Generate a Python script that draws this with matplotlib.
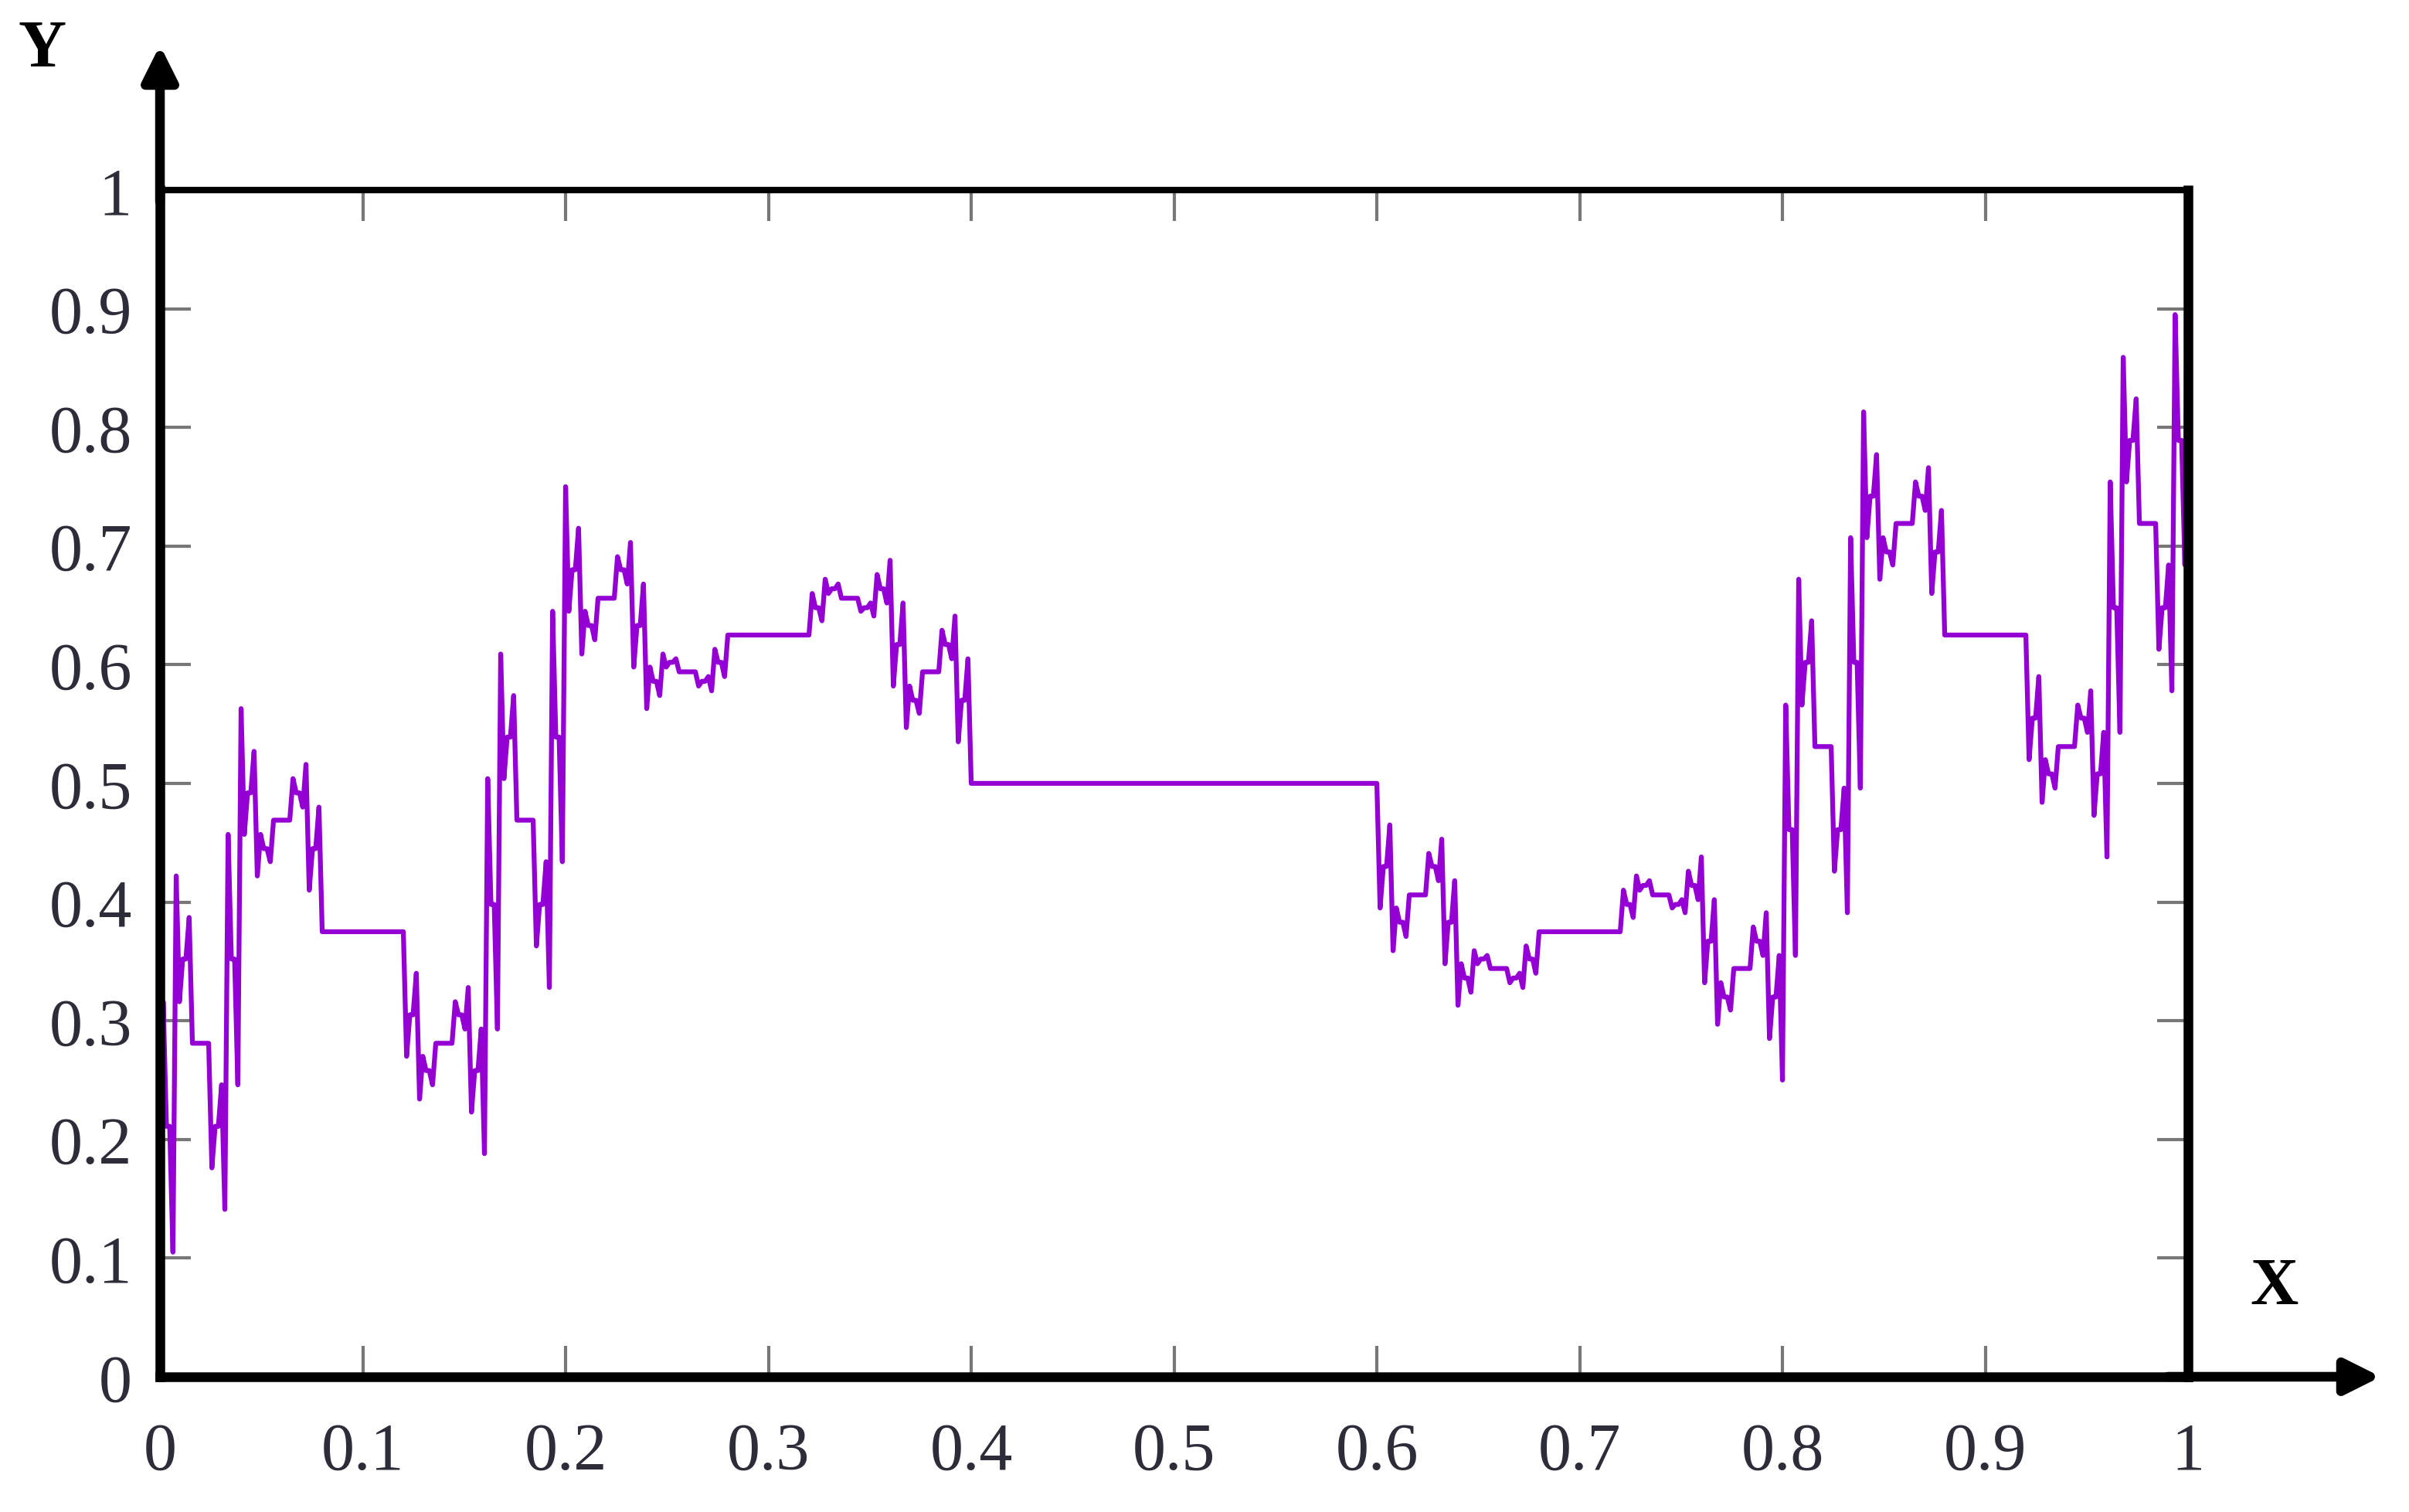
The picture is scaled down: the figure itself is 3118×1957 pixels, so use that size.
import numpy as np
import matplotlib
matplotlib.use("Agg")
import matplotlib.pyplot as plt

# Curve, piece by piece.
# x positions are given in steps of 1/625, y values as read.
part1_pos = [0, 1, 2, 3, 4, 5, 6, 7, 8, 9, 10,
             15, 16, 17, 18, 19, 20, 21, 22, 23, 24, 25, 26, 27, 28, 29, 30, 31, 32, 33, 34, 35,
             40, 41, 42, 43, 44, 45, 46, 47, 48, 49, 50,
             75, 76, 77, 78, 79, 80, 81, 82, 83, 84, 85,
             90, 91, 92, 93, 94, 95, 96, 97, 98, 99, 100, 101, 102, 103, 104, 105, 106, 107, 108, 109, 110,
             115, 116, 117, 118, 119, 120, 121, 122, 123, 124, 125]
part1_y = [0, .316, .211, .211, .105, .422, .316, .352, .352, .387, .281,
           .281, .176, .211, .211, .246, .141, .457, .352, .352, .246, .563, .457, .492, .492, .527, .422, .457, .445, .445, .434, .469,
           .469, .504, .492, .492, .480, .516, .410, .445, .445, .480, .375,
           .375, .270, .305, .305, .340, .234, .270, .258, .258, .246, .281,
           .281, .316, .305, .305, .293, .328, .223, .258, .258, .293, .188, .504, .398, .398, .293, .609, .504, .539, .539, .574, .469,
           .469, .363, .398, .398, .434, .328, .645, .539, .539, .434, .750]

part2_pos = [126, 127, 128, 129, 130, 131, 132, 133, 134, 135,
             140, 141, 142, 143, 144, 145, 146, 147, 148, 149, 150, 151, 152, 153, 154, 155, 156, 157, 158, 159, 160,
             165, 166, 167, 168, 169, 170, 171, 172, 173, 174, 175,
             200, 201, 202, 203, 204, 205, 206, 207, 208, 209, 210,
             215, 216, 217, 218, 219, 220, 221, 222, 223, 224, 225, 226, 227, 228, 229, 230, 231, 232, 233, 234, 235,
             240, 241, 242, 243, 244, 245, 246, 247, 248, 249, 250]
part2_y = [.645, .680, .680, .715, .609, .645, .633, .633, .621, .656,
           .656, .691, .680, .680, .668, .703, .598, .633, .633, .668, .563, .598, .586, .586, .574, .609, .598, .602, .602, .605, .594,
           .594, .582, .586, .586, .590, .578, .613, .602, .602, .590, .625,
           .625, .660, .648, .648, .637, .672, .660, .664, .664, .668, .656,
           .656, .645, .648, .648, .652, .641, .676, .664, .664, .652, .688, .582, .617, .617, .652, .547, .582, .570, .570, .559, .594,
           .594, .629, .617, .617, .605, .641, .535, .570, .570, .605, .500]

part3_pos = [375, 376, 377, 378, 379, 380, 381, 382, 383, 384, 385,
             390, 391, 392, 393, 394, 395, 396, 397, 398, 399, 400, 401, 402, 403, 404, 405, 406, 407, 408, 409, 410,
             415, 416, 417, 418, 419, 420, 421, 422, 423, 424, 425,
             450, 451, 452, 453, 454, 455, 456, 457, 458, 459, 460,
             465, 466, 467, 468, 469, 470, 471, 472, 473, 474, 475, 476, 477, 478, 479, 480, 481, 482, 483, 484, 485,
             490, 491, 492, 493, 494, 495, 496, 497, 498, 499, 500]
part3_y = [.500, .395, .430, .430, .465, .359, .395, .383, .383, .371, .406,
           .406, .441, .430, .430, .418, .453, .348, .383, .383, .418, .313, .348, .336, .336, .324, .359, .348, .352, .352, .355, .344,
           .344, .332, .336, .336, .340, .328, .363, .352, .352, .340, .375,
           .375, .410, .398, .398, .387, .422, .410, .414, .414, .418, .406,
           .406, .395, .398, .398, .402, .391, .426, .414, .414, .402, .438, .332, .367, .367, .402, .297, .332, .320, .320, .309, .344,
           .344, .379, .367, .367, .355, .391, .285, .320, .320, .355, .250]

part4_pos = [501, 502, 503, 504, 505, 506, 507, 508, 509, 510,
             515, 516, 517, 518, 519, 520, 521, 522, 523, 524, 525, 526, 527, 528, 529, 530, 531, 532, 533, 534, 535,
             540, 541, 542, 543, 544, 545, 546, 547, 548, 549, 550,
             575, 576, 577, 578, 579, 580, 581, 582, 583, 584, 585,
             590, 591, 592, 593, 594, 595, 596, 597, 598, 599, 600, 601, 602, 603, 604, 605, 606, 607, 608, 609, 610,
             615, 616, 617, 618, 619, 620, 621, 622, 623, 624, 625]
part4_y = [.566, .461, .461, .355, .672, .566, .602, .602, .637, .531,
           .531, .426, .461, .461, .496, .391, .707, .602, .602, .496, .813, .707, .742, .742, .777, .672, .707, .695, .695, .684, .719,
           .719, .754, .742, .742, .730, .766, .660, .695, .695, .730, .625,
           .625, .520, .555, .555, .590, .484, .520, .508, .508, .496, .531,
           .531, .566, .555, .555, .543, .578, .473, .508, .508, .543, .438, .754, .648, .648, .543, .859, .754, .789, .789, .824, .719,
           .719, .613, .648, .648, .684, .578, .895, .789, .789, .684, 1.0]

ticks = [0, 0.1, 0.2, 0.3, 0.4, 0.5, 0.6, 0.7, 0.8, 0.9, 1]
tick_labels = ['0', '0.1', '0.2', '0.3', '0.4', '0.5', '0.6', '0.7', '0.8', '0.9', '1']

plt.rcParams['font.family'] = ['Liberation Serif', 'DejaVu Serif']

x = np.array(part1_pos + part2_pos + part3_pos + part4_pos) / 625.0
y = np.array(part1_y + part2_y + part3_y + part4_y)

fig = plt.figure(figsize=(31.18, 19.58), dpi=100)
ax = fig.add_axes([0.0664, 0.0894, 0.8419, 0.7845])

ax.plot(x, y, color='#9400d3', lw=4.5)

ax.set_xlim(0, 1)
ax.set_ylim(0, 1)
ax.set_xticks(ticks)
ax.set_xticklabels(tick_labels)
ax.set_yticks(ticks)
ax.set_yticklabels(tick_labels)

# frame
for side in ['left', 'bottom', 'right']:
    ax.spines[side].set_linewidth(9)
ax.spines['top'].set_linewidth(6)
for sp in ax.spines.values():
    sp.set_color('black')
    sp.set_zorder(5)

ax.tick_params(direction='in', length=29, width=3, color='#777777',
               top=True, right=True, labelsize=62, labelcolor='#2d2d3a')
ax.tick_params(axis='y', pad=26)
ax.tick_params(axis='x', pad=42)

# axis arrows
arrow = dict(arrowstyle='-|>,head_length=0.9,head_width=0.45', color='black',
             lw=9, shrinkA=0, shrinkB=0, mutation_scale=30)
ax.annotate('', xy=(1.095, 0), xytext=(0.99, 0), xycoords='axes fraction',
            arrowprops=arrow, annotation_clip=False)
ax.annotate('', xy=(0, 1.122), xytext=(0, 0.99), xycoords='axes fraction',
            arrowprops=arrow, annotation_clip=False)

fig.text(55 / 3118, 1 - 66 / 1958, 'Y', fontsize=62, fontweight='bold',
         ha='center', va='center', color='black')
fig.text(2943 / 3118, 1 - 1668 / 1958, 'X', fontsize=62, fontweight='bold',
         ha='center', va='center', color='black')

fig.savefig('out.png', dpi=100, facecolor='white')
